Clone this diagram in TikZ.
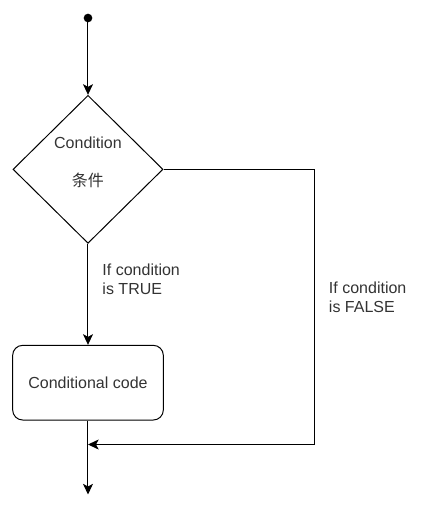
\documentclass[tikz,border=0pt]{standalone}
\usepackage{fontspec}
\setmainfont{Liberation Sans}
\newfontfamily\cjk{Noto Sans CJK SC}
\usetikzlibrary{positioning, shapes.geometric, arrows.meta}

\begin{document}
\begin{tikzpicture}[font=\fontsize{12}{14.25}\selectfont, line width=0.75pt, >={Stealth[length=8pt, width=7.5pt, inset=2pt]},
	dot/.style={circle, fill, inner sep=0pt, minimum size=6.5pt},
	d/.style={diamond, draw, inner sep=0pt, minimum width=112.5pt, minimum height=111pt, align=center, text depth=12pt, text=black!80},
	b/.style={rectangle, rounded corners=7.5pt, draw, minimum width=113pt, minimum height=56pt, text=black!80},
	lbl/.style={inner sep=0pt, align=left, text=black!80}]
		\node[dot] (S) {};
		\useasboundingbox ([shift={(-66pt,13.5pt)}]S.center) rectangle ([shift={(266.25pt,-372.75pt)}]S.center);
		\node[d, below=54pt of S] (C) {Condition\\[14.25pt]{\cjk 条件}};
		\node[b, below=75.75pt of C] (B) {Conditional code};
		\coordinate[below=18pt of B] (M);
		\coordinate[below=55.5pt of B] (E);
		\coordinate[right=113.25pt of C] (R);
		\node[lbl, below right=15pt and 10.5pt of C.south] (T_label) {If condition\\is TRUE};
		\node[lbl, below right=84pt and 10.5pt of R] (F_label) {If condition\\is FALSE};

		\draw[->] (S.center) -- (C);
		\draw[->] (C) -- (B);
		\draw[->] (B) -- (E);
		\draw[->] (C) -- (R) |- (M);
	\end{tikzpicture}
\end{document}
